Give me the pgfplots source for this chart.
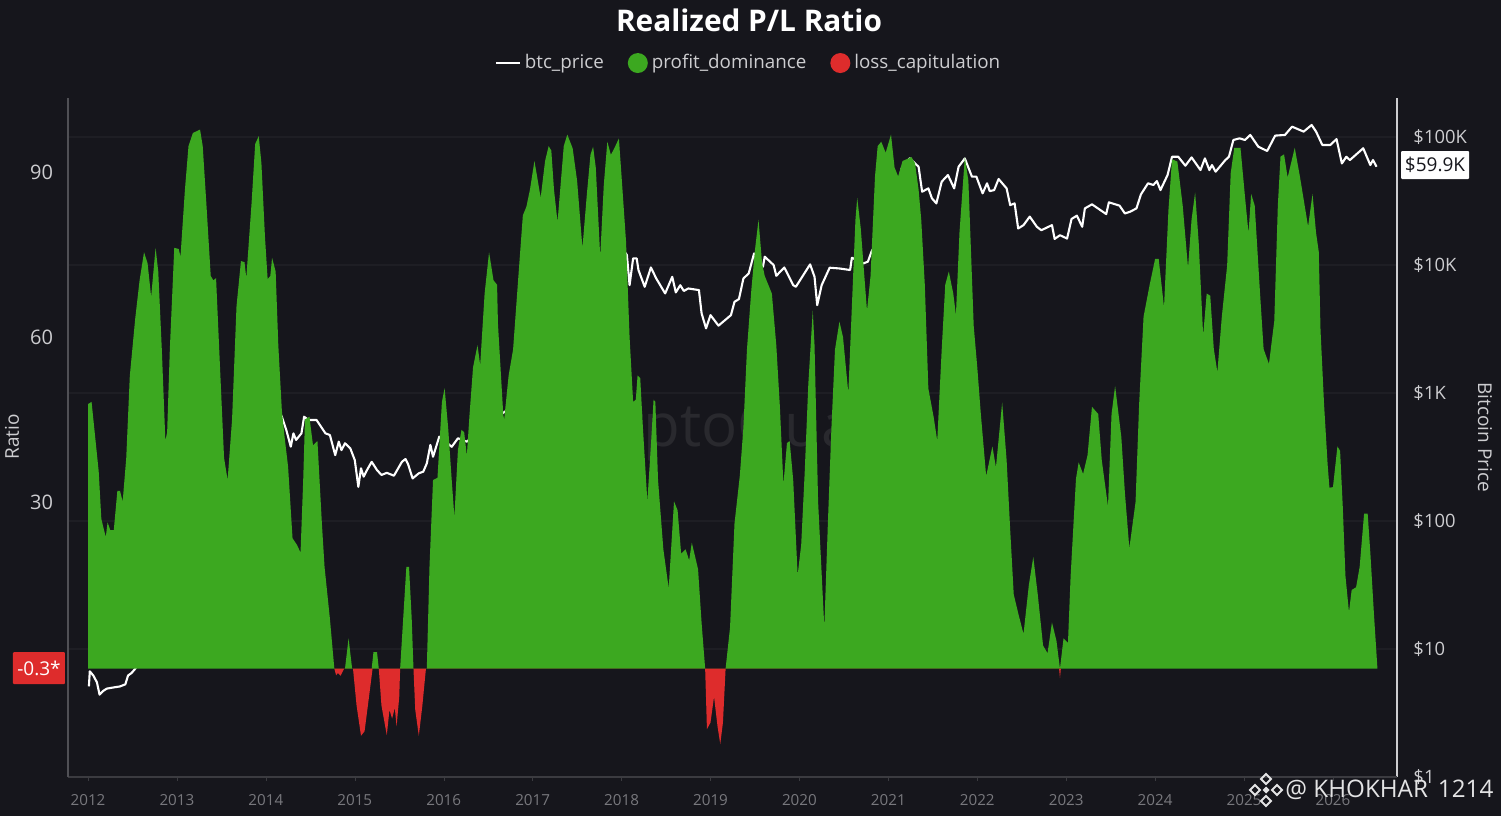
\documentclass[border=0pt]{standalone}
\usepackage{pgfplots}
\pgfplotsset{compat=1.18}
\usepackage{fontspec}
\setmainfont{Open Sans}
\definecolor{bg}{RGB}{22,22,28}
\definecolor{profit}{RGB}{60,168,32}
\definecolor{loss}{RGB}{222,44,44}
\definecolor{txt}{RGB}{205,205,208}
\definecolor{dimtxt}{RGB}{120,120,125}
\pgfplotsset{
  linekey/.style={legend image code/.code={\draw[white,line width=1pt] (-5pt,0pt)--(7pt,0pt);}},
  greenkey/.style={legend image code/.code={\fill[profit] (0pt,0pt) circle (5pt);}},
  redkey/.style={legend image code/.code={\fill[loss] (0pt,0pt) circle (5pt);}},
}
\begin{document}
\begin{tikzpicture}
\begin{scope}[x=0.5pt,y=-0.5pt,shift={(-34pt,388.5pt)}]
  \fill[bg] (0,0) rectangle (1501,816);
  \node[text=black!0!bg!92!white,font=\fontsize{30pt}{30pt}\selectfont] at (732,432) {CryptoQuant};
\end{scope}

% price axis underneath, the green area hides most of the line
\begin{axis}[
  name=price,
  scale only axis, width=664.5pt, height=339.5pt,
  xmin=2011.775, xmax=2026.72,
  ymode=log, log basis y=10, ymin=1, ymax=201800,
  axis x line=none,
  axis y line*=right,
  axis line style={draw=txt,line width=1pt,-},
  ytick={1,10,100,1000,10000,100000},
  yticklabels={\$1,\$10,\$100,\$1K,\$10K,\$100K},
  minor ytick={}, major tick length=0pt,
  ymajorgrids, grid style={draw=white!3.5!bg,line width=0.6pt},
  yticklabel style={text=txt,font=\fontsize{9.2pt}{12pt}\selectfont,xshift=4.7pt,yshift=0pt},
  ylabel={Bitcoin Price},
  ylabel style={at={(axis description cs:1.0662,0.5007)},anchor=center,rotate=180,text=txt,font=\fontsize{9.5pt}{12pt}\selectfont},
]
\addplot[white,line width=1.05pt,line join=round] coordinates {
(2012.01,5.1)(2012.02,6.7)(2012.06,6.2)(2012.10,5.5)(2012.13,4.4)(2012.17,4.7)(2012.21,4.9)(2012.28,5.0)
(2012.36,5.1)(2012.42,5.3)(2012.45,6.2)(2012.49,6.5)(2012.53,7.0)
(2012.70,10.5)(2013.00,13.5)(2013.20,90)(2013.50,100)(2013.80,200)(2013.93,900)(2014.10,800)
(2014.18,653)(2014.23,514)(2014.28,381)(2014.31,484)(2014.34,430)(2014.40,484)(2014.43,653)(2014.48,615)
(2014.57,615)(2014.67,484)(2014.72,470)(2014.78,327)(2014.82,417)(2014.85,358)(2014.89,405)(2014.95,369)
(2015.00,299)(2015.04,185)(2015.07,258)(2015.10,222)(2015.13,245)(2015.19,290)(2015.25,250)(2015.30,229)
(2015.36,238)(2015.44,226)(2015.53,290)(2015.57,305)(2015.60,277)(2015.65,215)(2015.72,236)(2015.77,243)
(2015.81,282)(2015.85,393)(2015.88,318)(2015.95,456)
(2016.09,380)(2016.16,443)(2016.26,417)
(2016.60,650)(2017.00,1000)(2017.50,2500)(2017.96,15000)
(2018.06,11970)(2018.09,6960)(2018.13,11270)(2018.17,11270)(2018.19,9140)(2018.26,6760)(2018.33,9570)
(2018.39,7850)(2018.49,6000)(2018.57,8090)(2018.61,6110)(2018.66,6960)(2018.70,6270)(2018.75,6560)(2018.87,6370)
(2018.90,4190)(2018.95,3200)(2019.00,4060)(2019.09,3360)(2019.23,4060)(2019.27,5160)(2019.32,5420)(2019.37,7850)
(2019.43,8600)(2019.49,12330)(2019.54,10000)(2019.59,9700)(2019.61,11610)(2019.71,10000)(2019.74,8240)(2019.83,9570)
(2019.93,6960)(2019.96,6760)(2020.12,10120)(2020.17,8090)(2020.20,4860)(2020.25,6960)(2020.34,9530)(2020.45,9400)
(2020.57,9140)(2020.59,11400)(2020.72,10300)(2020.77,10620)(2020.81,12700)(2020.95,19000)
(2021.10,38550)(2021.15,56900)(2021.24,68100)(2021.34,58600)(2021.38,37400)(2021.45,39700)(2021.49,33200)
(2021.54,30300)(2021.60,44800)(2021.67,50500)(2021.74,39700)(2021.79,58600)(2021.86,68100)(2021.94,49000)
(2021.99,49000)(2022.06,36300)(2022.11,43500)(2022.14,37800)(2022.19,38500)(2022.24,47000)(2022.33,39700)
(2022.37,29400)(2022.42,30300)(2022.46,19300)(2022.52,20500)(2022.59,23900)(2022.67,19900)(2022.72,18700)
(2022.84,20500)(2022.87,16000)(2022.93,17100)(2023.01,16100)(2023.06,22900)(2023.12,24300)(2023.18,19900)
(2023.21,27700)(2023.29,29800)(2023.45,25000)(2023.48,30900)(2023.60,29100)(2023.66,25300)(2023.72,26100)
(2023.79,27700)(2023.84,35600)(2023.92,43500)(2023.98,42200)(2024.02,45300)(2024.06,38500)(2024.14,50500)
(2024.19,70100)(2024.26,70100)(2024.34,59700)(2024.41,69300)(2024.51,55200)(2024.56,68100)(2024.61,55200)
(2024.64,60400)(2024.68,53600)(2024.79,66100)(2024.83,70100)(2024.88,94800)(2024.95,97700)(2025.01,94800)
(2025.07,103800)(2025.16,84100)(2025.26,77800)(2025.35,102600)(2025.46,103800)(2025.54,120500)(2025.67,110200)
(2025.76,124200)(2025.81,110200)(2025.88,86700)(2025.97,86700)(2026.04,96400)(2026.10,62200)(2026.15,70100)
(2026.19,66100)(2026.34,81700)(2026.42,60400)(2026.45,66100)(2026.49,58600)
};
\end{axis}

\begin{axis}[
  scale only axis, width=664.5pt, height=339.5pt,
  xmin=2011.775, xmax=2026.72, ymin=-20, ymax=103.45,
  axis x line*=bottom, axis y line*=left,
  x axis line style={draw=white!16!bg,line width=0.8pt,-},
  y axis line style={draw=white!25!bg,line width=1pt,-},
  xtick={2012,2013,...,2026},
  ytick={30,60,90},
  /pgf/number format/assume math mode=true,
  /pgf/number format/1000 sep={},
  x tick style={draw=white!16!bg}, y tick style={draw=none},
  tick align=outside, xtick pos=bottom,
  major tick length=2pt,
  xticklabel style={text=dimtxt,font=\fontsize{7.6pt}{10pt}\selectfont,yshift=-3pt},
  yticklabel style={text=txt,font=\fontsize{10pt}{12pt}\selectfont,xshift=-2pt},
  ylabel={Ratio},
  ylabel style={at={(axis description cs:-0.0421,0.5007)},anchor=center,text=txt,font=\fontsize{9.5pt}{12pt}\selectfont},
  clip=false,
  legend columns=3,
  legend style={at={(0.5128,1.0515)},anchor=center,draw=none,fill=none,text=txt,
    font=\fontsize{9.4pt}{12pt}\selectfont,
    /tikz/column 2/.style={column sep=10pt},/tikz/column 4/.style={column sep=10pt}},
]
\addlegendimage{linekey}
\addlegendentry{btc\_price}
\addplot[fill=profit,draw=none,greenkey] coordinates {
(2012.00,-0.3)(2012.00,47.8)(2012.04,48.2)(2012.08,41.9)(2012.12,35.6)(2012.15,26.9)(2012.20,23.6)(2012.22,26.3)
(2012.25,24.9)(2012.29,24.9)(2012.33,32.0)(2012.36,32.0)(2012.39,30.1)(2012.43,38.0)(2012.47,52.9)(2012.53,63.2)
(2012.58,70.3)(2012.63,75.4)(2012.67,73.4)(2012.71,67.3)(2012.76,76.2)(2012.79,71.9)(2012.83,57.7)(2012.87,41.1)
(2012.89,42.7)(2012.92,57.7)(2012.97,76.2)(2013.02,76.0)(2013.04,74.6)(2013.09,86.8)(2013.13,94.7)(2013.18,97.1)
(2013.26,97.7)(2013.29,94.7)(2013.33,84.5)(2013.38,71.1)(2013.41,70.3)(2013.44,70.7)(2013.48,56.1)(2013.53,38.0)
(2013.57,34.0)(2013.62,45.0)(2013.67,65.6)(2013.72,73.8)(2013.76,73.6)(2013.78,70.7)(2013.84,84.5)(2013.88,95.1)
(2013.92,96.5)(2013.95,91.6)(2013.99,78.2)(2014.02,70.5)(2014.05,71.1)(2014.07,74.4)(2014.11,71.9)(2014.14,58.5)
(2014.18,46.6)(2014.21,41.9)(2014.25,36.4)(2014.30,23.4)(2014.35,22.2)(2014.39,20.8)(2014.42,34.0)(2014.44,45.0)
(2014.49,45.5)(2014.53,40.3)(2014.58,41.1)(2014.63,26.1)(2014.66,18.2)(2014.72,8.8)(2014.77,-0.3)
(2014.89,-0.3)(2014.93,5.2)(2014.97,-0.3)
(2015.19,-0.3)(2015.21,2.7)(2015.25,2.7)(2015.27,-0.3)
(2015.51,-0.3)(2015.55,10.3)(2015.58,18.2)(2015.61,18.2)(2015.64,8.8)(2015.66,-0.3)
(2015.81,-0.3)(2015.84,18.2)(2015.88,34.0)(2015.93,34.4)(2015.98,48.2)(2016.01,50.7)(2016.05,43.5)(2016.09,34.0)
(2016.12,27.3)(2016.16,39.5)(2016.20,43.1)(2016.23,42.7)(2016.26,38.4)(2016.29,45.8)(2016.33,54.5)(2016.38,58.5)
(2016.41,54.9)(2016.46,67.9)(2016.51,75.4)(2016.56,70.3)(2016.60,69.5)(2016.61,62.4)(2016.67,45.8)(2016.68,45.0)
(2016.73,53.0)(2016.78,57.7)(2016.84,71.1)(2016.89,82.1)(2016.93,83.7)(2016.97,86.8)(2017.02,92.0)(2017.05,89.2)
(2017.09,85.3)(2017.14,92.0)(2017.18,94.7)(2017.21,93.9)(2017.24,86.8)(2017.28,80.9)(2017.31,86.8)(2017.35,94.7)
(2017.39,96.8)(2017.45,94.3)(2017.50,88.4)(2017.56,76.2)(2017.61,86.0)(2017.65,93.1)(2017.68,94.6)(2017.71,90.8)
(2017.76,74.6)(2017.80,87.6)(2017.84,95.5)(2017.88,93.1)(2017.93,94.7)(2017.97,96.1)(2018.00,89.2)(2018.05,77.4)
(2018.09,60.0)(2018.13,48.2)(2018.16,48.6)(2018.18,53.0)(2018.21,52.5)(2018.24,43.5)(2018.29,30.1)(2018.33,40.3)
(2018.36,48.6)(2018.38,48.2)(2018.41,34.0)(2018.47,21.4)(2018.53,14.3)(2018.56,22.2)(2018.59,30.1)(2018.63,28.5)
(2018.67,20.6)(2018.72,21.4)(2018.76,19.4)(2018.79,22.6)(2018.86,17.8)(2018.90,8.0)(2018.94,-0.3)
(2019.17,-0.3)(2019.22,7.2)(2019.27,26.1)(2019.33,34.8)(2019.37,43.5)(2019.41,57.7)(2019.46,68.7)(2019.50,75.8)
(2019.54,81.3)(2019.58,73.4)(2019.61,71.1)(2019.69,67.9)(2019.74,58.5)(2019.78,47.4)(2019.82,33.2)(2019.86,40.7)
(2019.89,41.1)(2019.93,34.0)(2019.98,16.7)(2020.02,22.2)(2020.06,35.6)(2020.10,51.4)(2020.15,64.8)(2020.17,58.5)
(2020.21,30.1)(2020.28,7.2)(2020.32,26.1)(2020.36,43.5)(2020.40,57.7)(2020.45,62.8)(2020.49,60.0)(2020.55,49.8)
(2020.59,65.6)(2020.63,81.3)(2020.65,85.3)(2020.69,79.7)(2020.73,71.1)(2020.76,64.8)(2020.80,71.1)(2020.85,89.2)
(2020.88,94.7)(2020.92,95.5)(2020.97,93.5)(2021.03,96.8)(2021.07,90.8)(2021.11,89.2)(2021.16,92.0)(2021.26,92.7)
(2021.30,91.6)(2021.34,86.8)(2021.37,81.3)(2021.41,69.5)(2021.45,50.6)(2021.51,45.4)(2021.55,41.1)(2021.60,57.7)
(2021.64,69.5)(2021.68,71.9)(2021.73,67.9)(2021.76,64.0)(2021.80,79.0)(2021.86,92.7)(2021.90,88.4)(2021.92,79.7)
(2021.96,62.0)(2022.00,54.5)(2022.04,46.0)(2022.10,34.7)(2022.17,40.1)(2022.21,36.3)(2022.28,48.1)(2022.33,37.6)
(2022.37,25.0)(2022.41,13.2)(2022.46,9.8)(2022.52,6.0)(2022.58,14.9)(2022.63,20.0)(2022.68,13.2)(2022.74,3.9)
(2022.79,2.5)(2022.84,8.1)(2022.89,4.8)(2022.93,-0.3)(2022.97,5.2)(2023.02,4.4)(2023.05,16.6)(2023.11,34.2)
(2023.14,37.2)(2023.19,35.1)(2023.24,38.5)(2023.29,47.3)(2023.36,46.0)(2023.40,37.6)(2023.47,29.2)(2023.51,46.0)
(2023.55,51.1)(2023.62,41.8)(2023.66,31.7)(2023.71,21.6)(2023.78,30.0)(2023.82,47.7)(2023.87,63.7)(2023.94,69.6)
(2024.00,74.2)(2024.04,74.2)(2024.10,65.4)(2024.15,83.1)(2024.19,92.3)(2024.25,91.9)(2024.31,83.9)(2024.37,72.6)
(2024.41,81.4)(2024.45,86.3)(2024.49,77.2)(2024.54,60.3)(2024.58,67.9)(2024.62,67.5)(2024.66,57.8)(2024.70,53.6)
(2024.75,63.7)(2024.81,73.0)(2024.85,89.8)(2024.89,94.4)(2024.96,94.4)(2025.01,85.6)(2025.05,78.9)(2025.08,86.0)
(2025.12,83.9)(2025.18,67.9)(2025.22,57.8)(2025.28,55.1)(2025.34,62.9)(2025.38,83.9)(2025.41,92.8)(2025.45,93.2)
(2025.49,89.0)(2025.57,94.4)(2025.63,89.0)(2025.72,80.1)(2025.77,86.0)(2025.81,78.9)(2025.84,75.5)(2025.86,61.2)
(2025.90,47.7)(2025.94,36.8)(2025.96,32.6)(2026.00,32.7)(2026.05,40.1)(2026.08,39.3)(2026.11,29.2)(2026.14,16.6)
(2026.18,10.0)(2026.21,14.0)(2026.26,14.5)(2026.30,18.2)(2026.35,27.9)(2026.39,27.9)(2026.42,20.8)(2026.46,9.8)
(2026.50,-0.3)
};
\addlegendentry{profit\_dominance}
\addplot[fill=loss,draw=none,redkey] coordinates {
(2014.77,-0.3)(2014.79,-1.5)(2014.81,-1.1)(2014.84,-1.6)(2014.88,-0.3)
(2014.98,-0.3)(2015.02,-7.0)(2015.07,-12.5)(2015.11,-11.7)(2015.16,-5.4)(2015.20,-0.3)
(2015.27,-0.3)(2015.30,-7.0)(2015.36,-12.4)(2015.39,-7.8)(2015.42,-9.4)(2015.45,-7.4)(2015.47,-10.8)(2015.50,-5.4)(2015.51,-0.3)
(2015.66,-0.3)(2015.68,-7.8)(2015.72,-12.5)(2015.76,-7.0)(2015.80,-0.3)
(2018.94,-0.3)(2018.96,-11.3)(2019.00,-10.1)(2019.04,-5.4)(2019.08,-10.9)(2019.11,-14.0)(2019.14,-10.1)(2019.17,-0.3)
(2022.92,-0.3)(2022.93,-2.0)(2022.94,-0.3)
};
\addlegendentry{loss\_capitulation}
\end{axis}

\begin{scope}[x=0.5pt,y=-0.5pt,shift={(-34pt,388.5pt)}]
  \node[text=white,font=\bfseries\fontsize{14.9pt}{16pt}\selectfont] at (749,20) {Realized P/L Ratio};
  \node[fill=loss,text=white,minimum width=26pt,minimum height=16pt,inner sep=0pt,rounded corners=0.5pt,font=\fontsize{9.5pt}{11pt}\selectfont] at (39,668) {-0.3*};
  \node[fill=white,text=bg,minimum width=34pt,minimum height=14pt,inner sep=0pt,rounded corners=0.5pt,font=\fontsize{9.5pt}{11pt}\selectfont] at (1435,165) {\$59.9K};
  % watermark
  \begin{scope}[shift={(1266,790)},draw=white!88!bg,line width=1pt]
    \draw (0,-6)--(5,-11)--(0,-16)--(-5,-11)--cycle;
    \draw (0,16)--(5,11)--(0,6)--(-5,11)--cycle;
    \draw (-6,0)--(-11,5)--(-16,0)--(-11,-5)--cycle;
    \draw (6,0)--(11,5)--(16,0)--(11,-5)--cycle;
    \fill[white!88!bg] (0,-3.5)--(3.5,0)--(0,3.5)--(-3.5,0)--cycle;
  \end{scope}
  \node[anchor=west,text=white!88!bg,inner sep=0pt,font=\fontsize{12.1pt}{14pt}\selectfont] at (1285,790) {@ KHOKHAR\hspace{5pt}1214};
\end{scope}
\pgfresetboundingbox
\path[use as bounding box] (-34pt,-19.5pt) rectangle (716.5pt,388.5pt);
\end{tikzpicture}
\end{document}
